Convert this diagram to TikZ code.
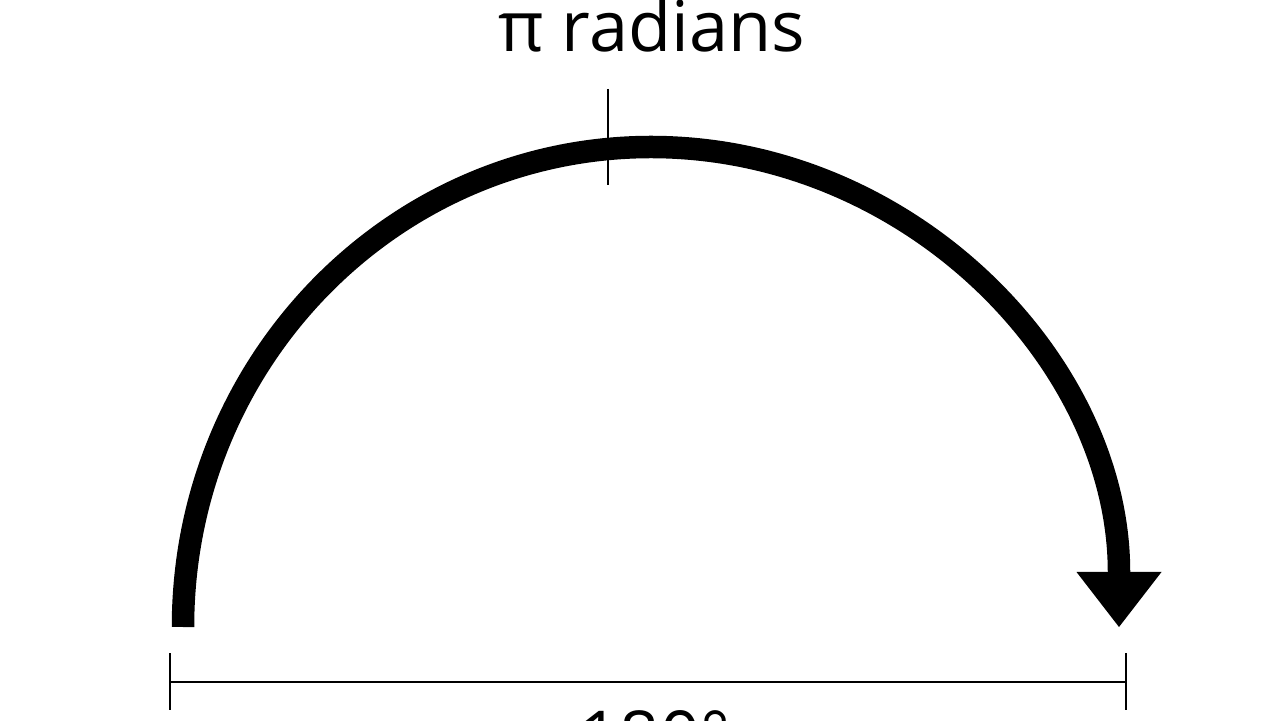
\documentclass[tikz,border=0pt]{standalone}
\usepackage{fontspec}
\setmainfont{Open Sans}
\usetikzlibrary{arrows.meta}

\begin{document}
\begin{tikzpicture}[
		bigarc/.style={line width=0.45cm, -{Triangle[width=1.7cm, length=1.1cm, line width=0pt]}},
		dimline/.style={line width=0.05cm},
		label/.style={inner sep=0pt, anchor=base, font=\fontsize{40}{48}\selectfont}
	]
	\useasboundingbox (0,0) rectangle (25.6,14.4);
	\clip (0,0) rectangle (25.6,14.4);

	% half turn
	\coordinate (start) at (3.66,1.86);
	\draw[bigarc] (start) arc[start angle=180, end angle=0, x radius=9.36cm, y radius=9.6cm] coordinate (stop);

	% mark at the top
	\coordinate (markT) at (12.16,12.62);
	\coordinate (markB) at (12.16,10.70);
	\draw[line width=0.04cm] (markT) -- (markB);
	\node[label] (rad) at (13.03,13.36) {π radians};

	% span below
	\coordinate (dimL) at (3.40,0.76);
	\coordinate (dimR) at (22.52,0.76);
	\draw[dimline] (dimL) -- (dimR);
	\draw[dimline] ([yshift=0.58cm]dimL) -- ([yshift=-0.56cm]dimL);
	\draw[dimline] ([yshift=0.58cm]dimR) -- ([yshift=-0.56cm]dimR);
	\node[label] (deg) at (13.10,-0.82) {180°};
\end{tikzpicture}
\end{document}
